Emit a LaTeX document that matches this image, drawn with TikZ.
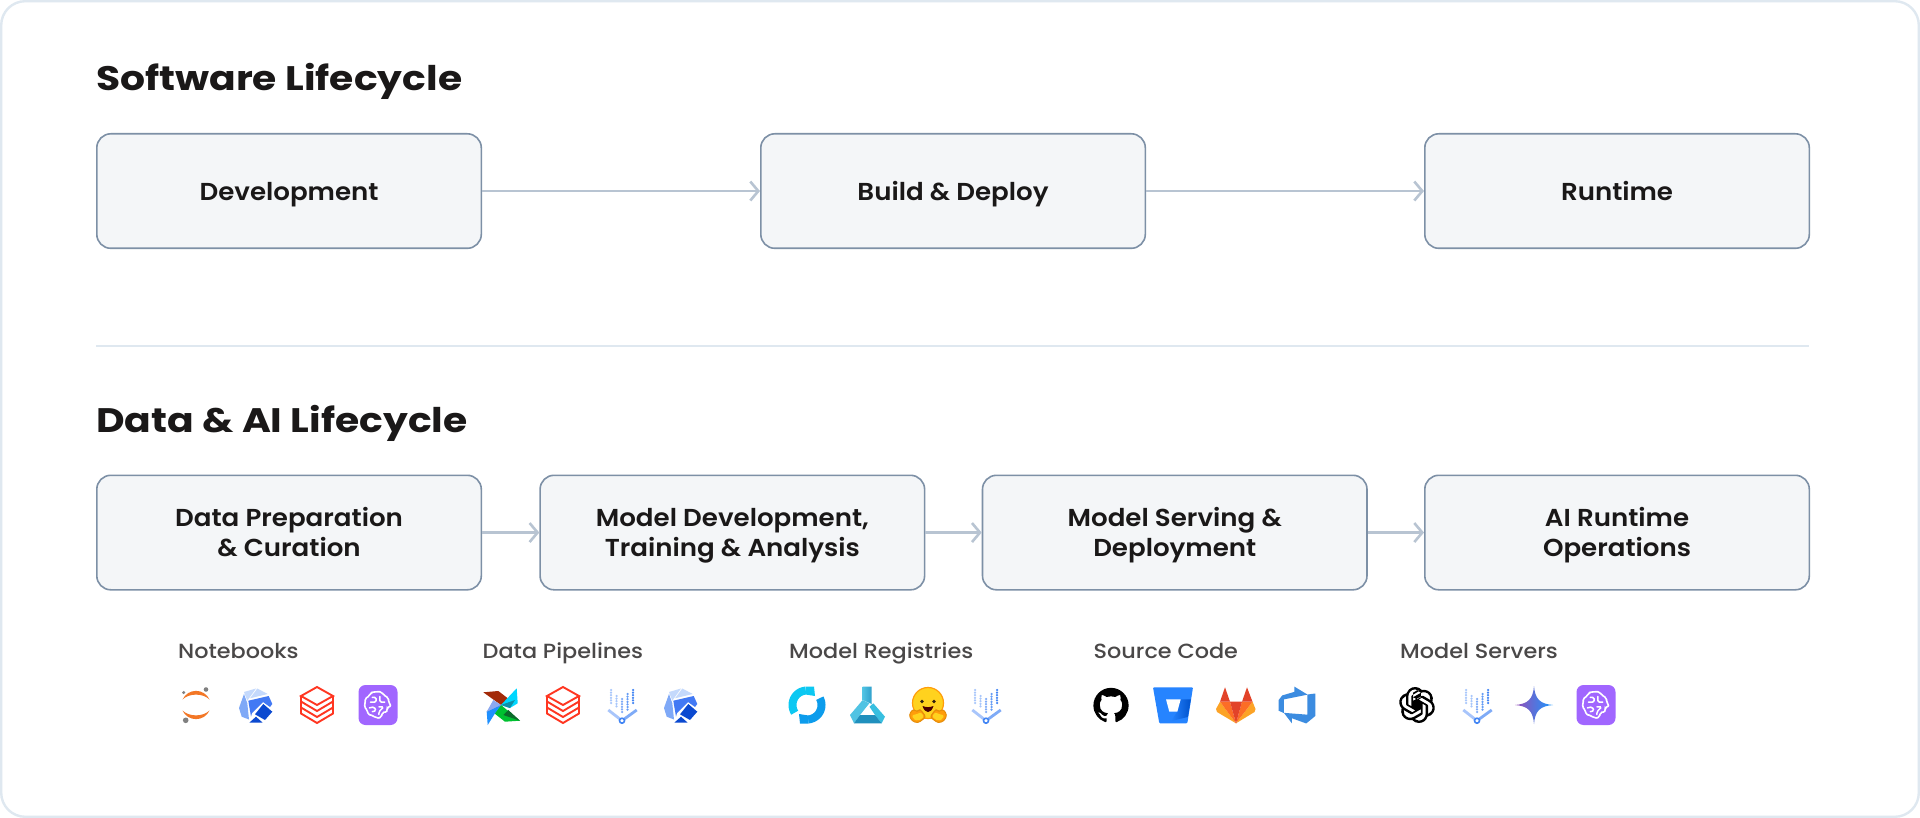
\documentclass[tikz,border=0pt]{standalone}
\usepackage{fontspec}
\usetikzlibrary{arrows.meta,svg.path}
\setmainfont{Poppins}
\newfontfamily\headfont{Poppins}[UprightFont=* Bold,FakeStretch=1.155]
\newfontfamily\boxfont{Poppins}[UprightFont=* SemiBold,FakeStretch=1.065]
\newfontfamily\lblfont{Poppins}[UprightFont=* Medium,FakeStretch=1.09]
\newcommand{\bxl}[1]{\rule[-2pt]{0pt}{22pt}\smash{#1}}
\definecolor{ink}{HTML}{1A1818}
\definecolor{gry}{HTML}{4A4848}
\definecolor{boxfill}{HTML}{F4F6F8}
\definecolor{boxline}{HTML}{7D90A6}
\definecolor{arrowc}{HTML}{B8C4D2}
\definecolor{cardline}{HTML}{DFE8F0}
\definecolor{dbred}{HTML}{FF3621}
\definecolor{brainc}{HTML}{A166FF}
\definecolor{jorange}{HTML}{F37726}
\definecolor{kpale}{HTML}{C4D9FC}
\definecolor{kmid}{HTML}{7FA9F7}
\definecolor{kmain}{HTML}{4279F4}
\definecolor{kdark}{HTML}{0B49D0}
\definecolor{glred}{HTML}{E24329}
\definecolor{glor}{HTML}{FC6D26}
\definecolor{glye}{HTML}{FCA326}
\definecolor{adoc}{HTML}{3C8CE0}
\definecolor{bbl}{HTML}{2684FF}
\definecolor{bbd}{HTML}{0052CC}
\definecolor{hugy}{HTML}{FFD21E}
\definecolor{hugo}{HTML}{FF9D0B}
\tikzset{
  lifebox/.style={draw=boxline,fill=boxfill,line width=1.6pt,rounded corners=14pt,minimum width=384.5pt,minimum height=114.5pt,inner sep=0pt,anchor=north west,align=center,font=\boxfont\fontsize{24.5}{29.5}\selectfont,text=ink},
  flow/.style={draw=arrowc,line width=2.6pt,-{Straight Barb[length=8pt,width=19pt,line width=2.6pt]}},
  head/.style={anchor=base west,inner sep=0pt,font=\headfont\fontsize{34}{40}\selectfont,text=ink},
  grouplbl/.style={anchor=base west,inner sep=0pt,font=\lblfont\fontsize{20.5}{24}\selectfont,text=gry},
  pics/jupyter/.style={code={
    \fill[jorange] (-13.5,-5.5) .. controls (-8,-17) and (8,-17) .. (13.5,-5.5) .. controls (7,-12) and (-7,-12) .. cycle;
    \fill[jorange] (-13.5,5.5) .. controls (-8,17) and (8,17) .. (13.5,5.5) .. controls (7,12) and (-7,12) .. cycle;
    \fill[gray] (-12.3,-12.5) circle (1.7);
    \fill[gray] (10,-15.5) circle (2.3);
    \fill[gray] (-10.3,15.3) circle (2.8);
  }},
  pics/kube/.style={code={
    \fill[kpale] (-12,-13) -- (0,-16.5) -- (-8.7,-4.3) -- cycle;
    \fill[kpale] (1.3,-16.5) -- (11.7,-11) -- (-6,-6.7) -- cycle;
    \fill[kmid] (-17,3) -- (-12,-11) -- (-8.7,-1.7) -- (-7,14.5) -- (-14.3,11.7) -- cycle;
    \fill[kmain] (-7.7,-4.3) -- (12.7,-9) -- (16.3,-1) -- (14,2) -- (7,-3) -- (-4,8) -- (-5,11.7) -- cycle;
    \fill[kdark] (7.3,-1) -- (16.3,6.7) -- (9,15) -- (-1,9.3) -- cycle;
    \fill[kdark] (-6.7,17.7) -- (0,11.7) -- (6.7,17.7) -- cycle;
  }},
  pics/dbricks/.style={code={
    \draw[dbred,line width=1.9pt,line join=miter] (0,-18) -- (16,-9) -- (0,0) -- (-16,-9) -- cycle;
    \draw[dbred,line width=1.9pt] (16,-9) -- (16,-3.5) -- (0,6) -- (-16,-3.5) -- (-16,-9);
    \draw[dbred,line width=1.9pt] (-16,-3.5) -- (-16,8.5) -- (0,18) -- (16,8.5) -- (16,-3.5);
    \draw[dbred,line width=1.9pt] (-16,2.5) -- (0,12) -- (16,2.5);
  }},
  pics/brain/.style={code={
    \fill[brainc,rounded corners=7pt] (-19.5,-20) rectangle (19.5,20);
    \begin{scope}[scale=0.95]
    \draw[white,line width=1.6pt,line cap=round,rounded corners=2pt]
      (-2,-14) -- (-8,-13) -- (-9,-9) -- (-14,-7) -- (-13,-2) -- (-15,2) -- (-11,5) -- (-11,10) -- (-5,11) -- (-2,14) -- (4,13) -- (4,8) -- (10,7) -- (9,3) -- (14,1) -- (11,-3) -- (11,-8) -- (6,-10) -- (4,-14) -- cycle;
    \draw[white,line width=1.5pt,line cap=round,rounded corners=1.5pt]
      (-6,-8) -- (-2,-8) -- (-2,-3) -- (-8,-3) (-9,3) -- (-4,2) -- (-2,6) -- (-6,7) (2,-9) -- (2,-3) -- (7,-3) (1,2) -- (6,2) -- (1,7) -- (1,10);
    \end{scope}
  }},
  pics/airflow/.style={code={
    \definecolor{afr}{HTML}{A32A08}\definecolor{afc}{HTML}{00D7FF}\definecolor{afg}{HTML}{00C030}
    \definecolor{afd}{HTML}{0B6B2A}\definecolor{afb}{HTML}{1E90FF}\definecolor{afp}{HTML}{8CA9F0}\definecolor{aft}{HTML}{0E8FA8}\definecolor{afs}{HTML}{3A6FC4}
    \fill[afr] (-17.7,-12.7) -- (-2.7,-14) -- (9,-5) -- (0,0) -- cycle;
    \fill[afc] (15.7,-16.7) -- (16.7,-1.7) -- (9,3) -- (0,0) -- cycle;
    \fill[aft] (0,0) -- (14,-5) -- (9,3) -- cycle;
    \fill[afg] (19,15.7) -- (4,16.7) -- (-6.7,8.3) -- (0,0) -- cycle;
    \fill[afd] (19,15.7) -- (7.3,5) -- (2.3,10) -- cycle;
    \fill[afb] (-13.3,20) -- (-14.3,6.7) -- (0,0) -- (-6,8.3) -- cycle;
    \fill[afs] (-14.3,6.7) -- (-9,1) -- (0,0) -- cycle;
    \fill[afp] (-14.3,6.7) -- (-7.7,-5) -- (0,0) -- cycle;
  }},
  pics/vertex/.style={code={
    \foreach \cx/\ya/\yb/\cc in {-12/-15/0/A9C7FB,-6.5/-9/2/A9C7FB,-1/-6/8/7FABF7,4.5/-11/7/669DF6,10/-15/-1/4285F4}{
      \definecolor{dotc}{HTML}{\cc}
      \pgfmathtruncatemacro{\nn}{floor((\yb-\ya)/2.6)}
      \foreach \k in {0,...,\nn}{ \fill[dotc] (\cx,{\ya+2.6*\k}) circle (1.25); }
    }
    \definecolor{vl}{HTML}{A8C5FB}\definecolor{vr}{HTML}{7FABF7}\definecolor{vc}{HTML}{4285F4}
    \draw[vl,line width=2.8pt] (-14.7,5) -- (-1,15.7);
    \draw[vr,line width=2.8pt] (-1,15.7) -- (13.7,5);
    \draw[vc,line width=1.6pt,fill=white] (-1,15.7) circle (2.5);
  }},
  pics/cycleicon/.style={code={
    \definecolor{cya}{HTML}{0CC8F2}\definecolor{bly}{HTML}{0C9CEC}
    \draw[cya,line width=8pt] plot[domain=-95:-212,samples=30] ({14.5*cos(\x)},{14.5*sin(\x)});
    \draw[bly,line width=8pt] plot[domain=-28:85,samples=30] ({14.5*cos(\x)},{14.5*sin(\x)});
    \fill[cya] (-1.5,-18.5) -- (7,-18.5) -- (8,-9) -- (-1.5,-10.5) -- cycle;
    \fill[bly] (1.5,18.5) -- (-7,18.5) -- (-8,9) -- (1.5,10.5) -- cycle;
  }},
  pics/flask/.style={code={
    \definecolor{fl}{HTML}{50C3E3}\definecolor{fr}{HTML}{38BFE0}\definecolor{fb}{HTML}{2090BD}\definecolor{fs}{HTML}{2F9FCB}
    \shade[left color=fl,right color=fs] (-5.3,-18.3) -- (3.7,-18.3) -- (3.7,-1) -- (-5.3,-5) -- cycle;
    \fill[fl] (-5.3,-5) -- (1.3,-1.7) -- (-8,10) -- (-14,18.3) -- (-18,10) -- cycle;
    \fill[fr] (5.3,-1.7) -- (17,11.7) -- (13.7,18.3) -- (7,10) -- (1.5,1.7) -- cycle;
    \fill[fb] (-8,10) -- (7,10) -- (13.7,18.3) -- (-14,18.3) -- cycle;
  }},
  pics/hug/.style={code={
    \fill[hugy,draw=hugo,line width=1.2pt] (0,-2) circle (15.5);
    \fill[black!75!brown] (-6,-3.5) circle (1.9) (6,-3.5) circle (1.9);
    \fill[black!70!red] (-5.5,1) .. controls (-3,9) and (3,9) .. (5.5,1) .. controls (2,2.5) and (-2,2.5) .. cycle;
    \fill[hugo,draw=hugo!90!black,line width=1pt,rounded corners=2.5pt] (-2,12) -- (-10,18) -- (-16,16) -- (-19,10) -- (-15,4) -- (-11,7) -- (-8,4) -- cycle;
    \fill[hugo,draw=hugo!90!black,line width=1pt,rounded corners=2.5pt] (2,12) -- (10,18) -- (16,16) -- (19,10) -- (15,4) -- (11,7) -- (8,4) -- cycle;
    \fill[hugy,rounded corners=2pt] (-4,12) -- (-10,16) -- (-15,14) -- (-16,10) -- (-10,9) -- (-7,7) -- cycle;
    \fill[hugy,rounded corners=2pt] (4,12) -- (10,16) -- (15,14) -- (16,10) -- (10,9) -- (7,7) -- cycle;
  }},
  pics/ghub/.style={code={
    \begin{scope}[shift={(-17.6,-17.6)},xscale=1.467,yscale=-1.467]
    \fill[black] svg "M12 .297c-6.63 0-12 5.373-12 12 0 5.303 3.438 9.8 8.205 11.385 .6 .113 .82-.258 .82-.577 0-.285-.01-1.04-.015-2.04-3.338 .724-4.042-1.61-4.042-1.61C4.422 18.07 3.633 17.7 3.633 17.7c-1.087-.744 .084-.729 .084-.729 1.205 .084 1.838 1.236 1.838 1.236 1.07 1.835 2.809 1.305 3.495 .998 .108-.776 .417-1.305 .76-1.605-2.665-.3-5.466-1.332-5.466-5.93 0-1.31 .465-2.38 1.235-3.22-.135-.303-.54-1.523 .105-3.176 0 0 1.005-.322 3.3 1.23 .96-.267 1.98-.399 3-.405 1.02 .006 2.04 .138 3 .405 2.28-1.552 3.285-1.23 3.285-1.23 .645 1.653 .24 2.873 .12 3.176 .765 .84 1.23 1.91 1.23 3.22 0 4.61-2.805 5.625-5.475 5.92 .42 .36 .81 1.096 .81 2.22 0 1.606-.015 2.896-.015 3.286 0 .315 .21 .69 .825 .57C20.565 22.092 24 17.592 24 12.297c0-6.627-5.373-12-12-12z";
    \end{scope}
  }},
  pics/bbucket/.style={code={
    \fill[bbl,rounded corners=1pt] (-20,-17.7) -- (20,-17.7) -- (14.3,18.3) -- (-13.7,18.3) -- cycle;
    \shade[left color=bbl,right color=bbd] (7.7,-5.7) -- (17.8,-5.7) -- (15.9,6) -- (14.8,12) -- (-2,16) -- (4.3,6.7) -- cycle;
    \fill[white] (-7,-5.7) -- (7.7,-5.7) -- (4.3,6.7) -- (-3.7,6.7) -- cycle;
  }},
  pics/glab/.style={code={
    \fill[glye] (-16,-3.3) -- (-20,4) -- (-19,7) -- (0,18.3) -- cycle;
    \fill[glye] (16.5,-3.3) -- (19.5,4) -- (18.5,7) -- (0,18.3) -- cycle;
    \fill[glor] (-16,-3.3) -- (-6,-3.3) -- (0,18.3) -- cycle;
    \fill[glor] (16.5,-3.3) -- (6,-3.3) -- (0,18.3) -- cycle;
    \fill[glred] (-6,-3.3) -- (6,-3.3) -- (0,18.3) -- cycle;
    \fill[glred] (-16,-3.3) -- (-11,-17.7) -- (-6,-3.3) -- cycle;
    \fill[glred] (16.5,-3.3) -- (11,-17.7) -- (6,-3.3) -- cycle;
  }},
  pics/adevops/.style={code={
    \begin{scope}[xscale=2.3,yscale=2.3,shift={(-9,-9)}]
    \fill[adoc] (17,4) -- (17,13.74) -- (13,17.02) -- (6.8,14.76) -- (6.8,17) -- (3.29,12.41) -- (13.52,13.21) -- (13.52,4.44) -- cycle;
    \fill[adoc] (13.59,4.49) -- (7.85,1) -- (7.85,3.29) -- (2.58,4.84) -- (1,6.87) -- (1,11.48) -- (3.26,12.48) -- (3.26,6.57) -- cycle;
    \end{scope}
  }},
  pics/oai/.style={code={
    \begin{scope}[shift={(-18,-18)},xscale=1.5,yscale=-1.5]
    \fill[black] svg "M22.2819 9.8211a5.9847 5.9847 0 0 0-.5157-4.9108 6.0462 6.0462 0 0 0-6.5098-2.9A6.0651 6.0651 0 0 0 4.9807 4.1818a5.9847 5.9847 0 0 0-3.9977 2.9 6.0462 6.0462 0 0 0 .7427 7.0966 5.9847 5.9847 0 0 0 .511 4.9107 6.051 6.051 0 0 0 6.5146 2.9001A5.9847 5.9847 0 0 0 13.2599 24a6.0557 6.0557 0 0 0 5.7718-4.2058 5.9894 5.9894 0 0 0 3.9977-2.9001 6.0557 6.0557 0 0 0-.7475-7.0729zm-9.022 12.6081a4.4755 4.4755 0 0 1-2.8764-1.0408l.1419-.0804 4.7783-2.7582a.7948 .7948 0 0 0 .3927-.6813v-6.7369l2.02 1.1686a.071 .071 0 0 1 .038 .052v5.5826a4.504 4.504 0 0 1-4.4945 4.4944zm-9.6607-4.1254a4.4708 4.4708 0 0 1-.5346-3.0137l.142 .0852 4.783 2.7582a.7712 .7712 0 0 0 .7806 0l5.8428-3.3685v2.3324a.0804 .0804 0 0 1-.0332 .0615L9.74 19.9502a4.4992 4.4992 0 0 1-6.1408-1.6464zM2.3408 7.8956a4.485 4.485 0 0 1 2.3655-1.9728V11.6a.7664 .7664 0 0 0 .3879 .6765l5.8144 3.3543-2.0201 1.1685a.0757 .0757 0 0 1-.071 0l-4.8303-2.7865A4.504 4.504 0 0 1 2.3408 7.872zm16.5963 3.8558L13.1038 8.364 15.1192 7.2a.0757 .0757 0 0 1 .071 0l4.8303 2.7913a4.4944 4.4944 0 0 1-.6765 8.1042v-5.6772a.79 .79 0 0 0-.407-.667zm2.0107-3.0231l-.142-.0852-4.7735-2.7818a.7759 .7759 0 0 0-.7854 0L9.409 9.2297V6.8974a.0662 .0662 0 0 1 .0284-.0615l4.8303-2.7866a4.4992 4.4992 0 0 1 6.6802 4.66zM8.3065 12.863l-2.02-1.1638a.0804 .0804 0 0 1-.038-.0567V6.0742a4.4992 4.4992 0 0 1 7.3757-3.4537l-.142 .0805L8.704 5.459a.7948 .7948 0 0 0-.3927 .6813zm1.0976-2.3654l2.602-1.4998 2.6069 1.4998v2.9994l-2.5974 1.4997-2.6067-1.4997z";
    \end{scope}
  }},
  pics/gem/.style={code={
    \shade[left color=purple!55!blue!70!white,right color=cyan!55!blue!90!white] (0,-19) .. controls (1,-6) and (6,-1) .. (19,0) .. controls (6,1) and (1,6) .. (0,19) .. controls (-1,6) and (-6,1) .. (-19,0) .. controls (-6,-1) and (-1,-6) .. cycle;
  }},
}
\begin{document}
\begin{tikzpicture}[x=1pt,y=-1pt]
\useasboundingbox (0,0) rectangle (1920,818);
\draw[draw=cardline,fill=white,line width=2.4pt,rounded corners=24pt] (1.2,1.2) rectangle (1918.8,816.8);

\node[head] (h1) at (96,91) {Software Lifecycle};
\node[head] (h2) at (96,432) {Data \& AI Lifecycle};

\node[lifebox] (dev) at (96,133) {\bxl{Development}};
\node[lifebox] (bld) at (760,133) {\bxl{Build \& Deploy}};
\node[lifebox] (run) at (1424,133) {\bxl{Runtime}};
\draw[flow] (dev) -- (bld);
\draw[flow] (bld) -- (run);

\coordinate (rulea) at (96,346.5);
\coordinate (ruleb) at (1809,346.5);
\draw[cardline,line width=2pt] (rulea) -- (ruleb);

\node[lifebox] (prep) at (96,474.5) {\bxl{Data Preparation}\\\bxl{\& Curation}};
\node[lifebox] (train) at (539.3,474.5) {\bxl{Model Development,}\\\bxl{Training \& Analysis}};
\node[lifebox] (serve) at (981.7,474.5) {\bxl{Model Serving \&}\\\bxl{Deployment}};
\node[lifebox] (ops) at (1424,474.5) {\bxl{AI Runtime}\\\bxl{Operations}};
\draw[flow] (prep) -- (train);
\draw[flow] (train) -- (serve);
\draw[flow] (serve) -- (ops);

\node[grouplbl] (g1) at (178,658) {Notebooks};
\node[grouplbl] (g2) at (482.5,658) {Data Pipelines};
\node[grouplbl] (g3) at (789,658) {Model Registries};
\node[grouplbl] (g4) at (1093.5,658) {Source Code};
\node[grouplbl] (g5) at (1400,658) {Model Servers};

\pic at (196,705) {jupyter};
\pic at (256,705) {kube};
\pic at (317,705) {dbricks};
\pic at (378,705) {brain};
\pic at (501,705) {airflow};
\pic at (563,705) {dbricks};
\pic at (623,705) {vertex};
\pic at (681,705) {kube};
\pic at (807,705) {cycleicon};
\pic at (868,705) {flask};
\pic at (928,705) {hug};
\pic at (987,705) {vertex};
\pic at (1111,705) {ghub};
\pic at (1173,705) {bbucket};
\pic at (1236,705) {glab};
\pic at (1297,705) {adevops};
\pic at (1417,705) {oai};
\pic at (1478,705) {vertex};
\pic at (1534,705) {gem};
\pic at (1596,705) {brain};
\end{tikzpicture}
\end{document}
